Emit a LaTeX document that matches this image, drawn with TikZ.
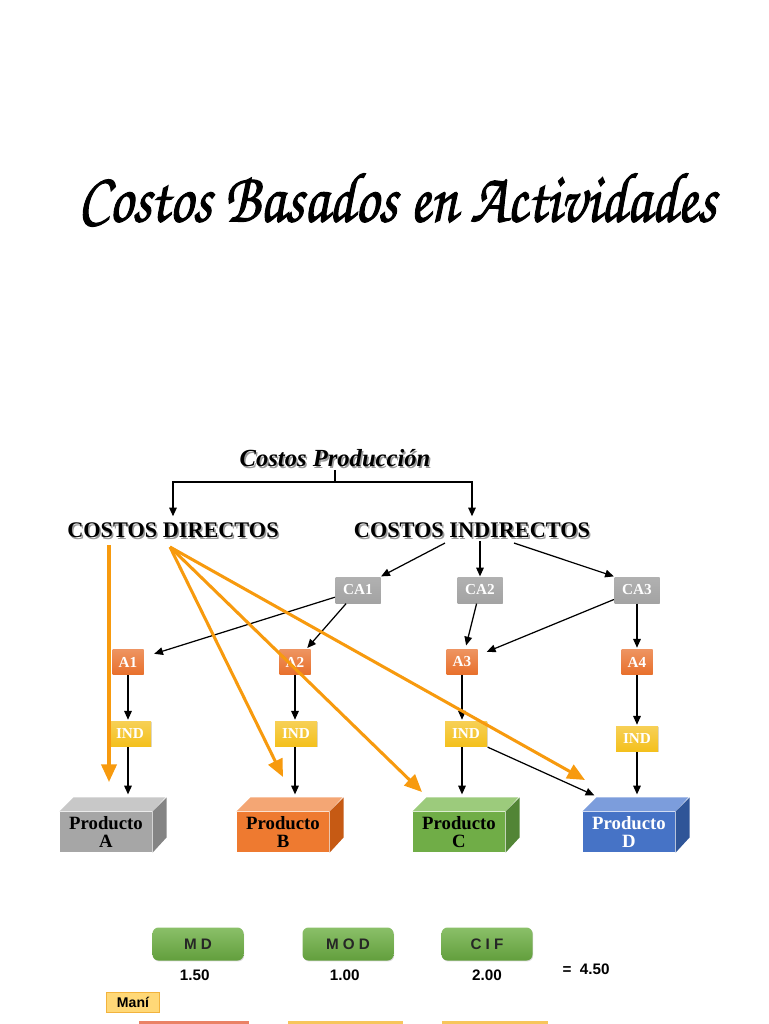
\documentclass[tikz,border=0pt]{standalone}
\usepackage{fontspec}
\setmainfont{Liberation Serif}
\setsansfont{Liberation Sans}
\newfontfamily\chorus[FakeBold=1.6]{texgyrechorus-mediumitalic.otf}
\usetikzlibrary{calc, positioning, arrows.meta, shadows}

\definecolor{caGray}{HTML}{A3A3A3}
\definecolor{actOrange}{HTML}{E8702C}
\definecolor{indYellow}{HTML}{F4C01C}
\definecolor{fanOrange}{HTML}{F79A0E}
\definecolor{pAf}{HTML}{A6A6A6}\definecolor{pAt}{HTML}{C8C8C8}\definecolor{pAs}{HTML}{848484}
\definecolor{pBf}{HTML}{EE7A30}\definecolor{pBt}{HTML}{F4A674}\definecolor{pBs}{HTML}{C65A14}
\definecolor{pCf}{HTML}{70AD47}\definecolor{pCt}{HTML}{9CCB7C}\definecolor{pCs}{HTML}{528536}
\definecolor{pDf}{HTML}{4673C6}\definecolor{pDt}{HTML}{7C9DDC}\definecolor{pDs}{HTML}{2F5598}
\definecolor{cifGreen}{HTML}{6DB043}
\definecolor{maniFill}{HTML}{FFD877}
\definecolor{maniLine}{HTML}{F2B33D}
\definecolor{rowOrange}{HTML}{EA8266}
\definecolor{rowYellow}{HTML}{F7C65C}

% heading text with a grey shadow
\newcommand{\shad}[1]{\makebox[0pt][l]{\hspace{1.3pt}\raisebox{-1.3pt}{\textcolor{black!40}{#1}}}#1}

\begin{document}
\begin{tikzpicture}[
    x=0.3mm, y=-0.3mm,
    >={Triangle[length=7.5pt,width=6.5pt]},
    line width=1.05pt,
    head/.style={inner sep=1pt, font=\bfseries\fontsize{19}{19}\selectfont},
    cabox/.style={minimum width=13.5mm, minimum height=7.8mm, inner sep=0pt, top color=caGray!85, bottom color=caGray, draw=none, text=white, font=\bfseries\fontsize{13}{13}\selectfont, drop shadow={shadow xshift=0.6pt, shadow yshift=-0.8pt, opacity=0.3}},
    actbox/.style={cabox, minimum width=9.3mm, minimum height=7.5mm, top color=actOrange!75, bottom color=actOrange},
    indbox/.style={cabox, minimum width=12.6mm, minimum height=7.5mm, top color=indYellow!75, bottom color=indYellow},
    prod/.style={minimum width=27.6mm, minimum height=12mm, inner sep=0pt, align=center, font=\bfseries\fontsize{16}{15.5}\selectfont},
    fan/.style={draw=fanOrange, line width=2.6pt, -{Triangle[length=15pt,width=13pt]}},
    cfbox/.style={rounded corners=1.8mm, minimum width=27.3mm, minimum height=9.9mm, inner sep=0pt, top color=cifGreen!80, bottom color=cifGreen!90!black, text=black!85, font=\sffamily\bfseries\fontsize{13}{13}\selectfont, drop shadow={shadow xshift=0.6pt, shadow yshift=-0.8pt, opacity=0.3}},
    val/.style={inner sep=0pt, font=\sffamily\bfseries\fontsize{13}{13}\selectfont},
]
    \clip (0,0) rectangle (768,1024);

    % Title
    \node (title) at (397,200) {\scalebox{1}[1.2]{\resizebox{191.4mm}{!}{\chorus Costos Basados en Actividades}}};

    % Headings
    \node[head, font=\bfseries\itshape\fontsize{21}{21}\selectfont] (prodc) at (335,459) {\shad{Costos Producción}};
    \node[head] (cd) at (173,531) {\shad{COSTOS DIRECTOS}};
    \node[head] (ci) at (472,531) {\shad{COSTOS INDIRECTOS}};

    \coordinate (brk) at (335,482);
    \draw (prodc.south) -- (brk);
    \draw[->, shorten >=4pt] (brk) -| (cd.north);
    \draw[->, shorten >=4pt] (brk) -| (ci.north);

    % Cost pools
    \node[cabox] (ca1) at (358,590) {CA1};
    \node[cabox] (ca2) at (480,590) {CA2};
    \node[cabox] (ca3) at (637,590) {CA3};

    \draw[->] ($(ci.south)+(-27,2)$) -- (ca1.north east);
    \draw[->] (ca2.north |- ci.south) -- (ca2.north);
    \draw[->] ($(ci.south)+(42,2)$) -- (ca3.north west);

    % Activities
    \node[actbox] (a1) at (128,662) {A1};
    \node[actbox] (a2) at (295,662) {A2};
    \node[actbox] (a3) at (462,662) {A3};
    \node[actbox] (a4) at (637,662) {A4};

    \draw[->, shorten >=9pt] (ca1) -- (a1);
    \draw[->, shorten >=1pt] (ca1) -- (a2);
    \draw[->, shorten >=3pt] (ca2) -- (a3);
    \draw[->, shorten >=8pt] (ca3) -- (a3);
    \draw[->, shorten >=1pt] (ca3) -- (a4);

    \node[indbox] (i1) at (130,734) {IND};
    \node[indbox] (i2) at (296,734) {IND};
    \node[indbox] (i3) at (466,734) {IND};
    \node[indbox] (i4) at (637,739) {IND};

    \foreach \c in {1,...,4}
        \draw[->, shorten >=1pt] (a\c) -- (a\c |- i\c.north);

    % Products
    \foreach \p/\x/\tc in {A/106/black, B/283/black, C/459/black, D/629/white} {
        \node[prod, fill=p\p f, text=\tc] (p\p) at (\x,832) {Producto\\\p};
        \fill[p\p t] (p\p.north west) -- ++(14,-14) -- ++(92,0) -- (p\p.north east) -- cycle;
        \fill[p\p s] (p\p.north east) -- ++(14,-14) -- ++(0,40) -- (p\p.south east) -- cycle;
        \coordinate (p\p-top) at ($(p\p.north)+(7,-17)$);
        \coordinate (p\p-bl) at ($(p\p.north west)+(12,-16)$);
    }

    \foreach \c/\p in {1/A,2/B,3/C,4/D}
        \draw[->] (a\c |- i\c.south) -- (a\c |- p\p-top);
    \draw[->] (i3.south east) -- (pD-bl);

    % Direct costs
    \coordinate (cdl) at (109,545);
    \coordinate (fanc) at (170,547);
    \coordinate (tA) at (109,782);
    \coordinate (tB) at (283,777);
    \coordinate (tC) at (422,792);
    \coordinate (tD) at (585,780);
    \draw[fan] (cdl) -- (tA);
    \foreach \t in {tB,tC,tD}
        \draw[fan] (fanc) -- (\t);

    % Unit cost
    \node[cfbox] (md) at (198,944) {M D};
    \node[cfbox] (mod) at (348,944) {M O D};
    \node[cfbox] (cif) at (487,944) {C I F};
    \node[val, below=2.4mm of md, xshift=-1mm] (vmd) {1.50};
    \node[val, below=2.4mm of mod, xshift=-1mm] (vmod) {1.00};
    \node[val, below=2.4mm of cif] (vcif) {2.00};
    \node[val, anchor=west] (tot) at (562,969) {=\ \ 4.50};

    \node[draw=maniLine, fill=maniFill, line width=0.6pt, minimum width=15.9mm, minimum height=6mm, inner sep=0pt, font=\sffamily\bfseries\fontsize{12}{12}\selectfont] (mani) at (133,1002) {Maní};

    \fill[rowOrange] (139,1021) rectangle (249,1040);
    \fill[rowYellow] (288,1021) rectangle (403,1040);
    \fill[rowYellow] (442,1021) rectangle (548,1040);
\end{tikzpicture}
\end{document}
